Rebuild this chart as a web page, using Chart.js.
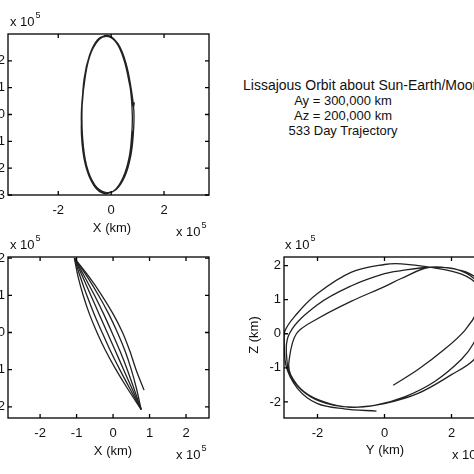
<!DOCTYPE html>
<html><head><meta charset="utf-8">
<script src="https://cdn.jsdelivr.net/npm/chart.js@4/dist/chart.umd.min.js"></script>
<style>
html,body{margin:0;padding:0;width:474px;height:474px;overflow:hidden;background:#fff;position:relative;font-family:"Liberation Sans",Arial,sans-serif}
canvas{position:absolute}
.t{position:absolute;font-size:13px;color:#111;white-space:nowrap;transform:translateX(-50%)}
</style></head><body>
<canvas id="c1" style="left:-60px;top:0px;width:280px;height:240px"></canvas>
<canvas id="c2" style="left:-60px;top:228px;width:280px;height:246px"></canvas>
<canvas id="c3" style="left:200px;top:228px;width:300px;height:246px"></canvas>
<div class="t" style="left:243px;top:77px;transform:none;font-size:14px">Lissajous Orbit about Sun-Earth/Moon L2</div>
<div class="t" style="left:343px;top:93px">Ay = 300,000 km</div>
<div class="t" style="left:343px;top:108px">Az = 200,000 km</div>
<div class="t" style="left:343px;top:123px">533 Day Trajectory</div>
<script>
// Data (units of 1e5 km)
const xyOrbitX = [0.82,0.72,0.5,0.15,-0.25,-0.65,-0.95,-1.1,-1.12,-1.0,-0.8,-0.5,-0.15,0.2,0.5,0.72,0.8,0.78,0.68,0.45,0.1,-0.3,-0.68,-0.98,-1.12,-1.1,-0.98,-0.78,-0.45,-0.1,0.25,0.55,0.76,0.86,0.84,0.74,0.52,0.18,-0.22,-0.62,-0.93,-1.08,-1.1,-1.02,-0.82,-0.52,-0.18,0.18,0.48,0.7,0.84,0.88];
const xyOrbitY = [-0.6,-1.5,-2.3,-2.8,-2.95,-2.65,-1.9,-0.9,0.2,1.3,2.2,2.75,2.95,2.7,2.0,1.0,0.0,-0.7,-1.6,-2.35,-2.85,-2.9,-2.6,-1.85,-0.8,0.3,1.4,2.25,2.8,2.9,2.65,1.95,0.95,0.1,-0.7,-1.55,-2.3,-2.8,-2.9,-2.62,-1.9,-0.85,0.25,1.35,2.2,2.78,2.92,2.7,2.05,1.1,0.3,0.45];
const xzZ = [2.0,1.5,1.0,0.5,0.0,-0.5,-1.0,-1.5,-2.07];
const xzLines = [
  [-1.06,-0.96,-0.82,-0.65,-0.44,-0.20,0.08,0.39,0.77],
  [-1.06,-0.90,-0.72,-0.52,-0.30,-0.07,0.185,0.455,0.77],
  [-1.06,-0.835,-0.61,-0.385,-0.16,0.065,0.29,0.515,0.77],
  [-1.06,-0.78,-0.51,-0.26,-0.03,0.19,0.39,0.57,0.77],
  [-1.06,-0.71,-0.40,-0.12,0.12,0.33,0.50,0.64,0.77]
];
const xzLastX = [-1.06,-0.66,-0.31,0.0,0.26,0.46,0.63,0.85];
const xzLastZ = [2.0,1.5,1.0,0.5,0.0,-0.5,-1.0,-1.55];
const yzY = [0.26,1.0,1.8,2.4,2.8,3.0,2.8,2.3,1.35,0.5,0,-1.0,-2.0,-2.63,-2.85,-2.8,-2.4,-1.8,-1.1,-0.3,0.6,1.5,2.3,2.66,3.0,2.95,2.7,2.1,1.35,0.5,0,-1,-2,-2.84,-2.9,-2.7,-2.2,-1.5,-0.8,0,1.0,2.0,2.66,3.0,3.0,2.8,2.3,1.35,0.5,0,-1,-2,-2.6,-3.0,-2.95,-2.6,-2.0,-1.2,-0.24];
const yzZ = [-1.51,-1.05,-0.45,0.1,0.7,1.3,1.6,1.85,1.95,1.62,1.38,0.95,0.44,0,-0.8,-1.2,-1.7,-2.0,-2.15,-2.1,-1.85,-1.4,-0.75,-0.28,0.5,1.2,1.6,1.9,1.95,1.85,1.76,1.4,0.85,0,-0.9,-1.4,-1.85,-2.1,-2.15,-2.05,-1.75,-1.2,-0.77,-0.2,0.8,1.4,1.75,1.95,2.05,2.03,1.8,1.18,0.6,0,-0.9,-1.6,-2.05,-2.2,-2.27];

const pts=(xs,ys)=>xs.map((x,i)=>({x,y:ys[i]}));
const FONT='"Liberation Sans",Arial,sans-serif';
function ds(data,t){return {data,showLine:true,borderColor:'#222',borderWidth:1.3,pointRadius:0,tension:t||0.4,fill:false};}

const boxPlugin={id:'box',afterDraw(ch,a,o){
  const c=ch.ctx,A=ch.chartArea;c.save();c.strokeStyle='#000';c.lineWidth=1.3;
  c.strokeRect(A.left,A.top,A.right-A.left,A.bottom-A.top);
  const xs=ch.scales.x,ys=ch.scales.y,L=4;c.beginPath();
  xs.ticks.forEach(t=>{const p=xs.getPixelForValue(t.value);c.moveTo(p,A.bottom);c.lineTo(p,A.bottom-L);c.moveTo(p,A.top);c.lineTo(p,A.top+L);});
  ys.ticks.forEach(t=>{const p=ys.getPixelForValue(t.value);c.moveTo(A.left,p);c.lineTo(A.left+L,p);c.moveTo(A.right,p);c.lineTo(A.right-L,p);});
  c.stroke();
  c.fillStyle='#111';c.textBaseline='middle';
  (o.texts||[]).forEach(t=>{
    c.save();c.translate(A.left+t.dx,A.top+t.dy);if(t.rot)c.rotate(t.rot);
    c.font='13px '+FONT;
    if(t.exp){c.textAlign='left';c.fillText('x 10',0,0);const w=c.measureText('x 10').width;c.font='9px '+FONT;c.fillText('5',w+1,-6);}
    else{c.textAlign='center';c.fillText(t.text,0,0);}
    c.restore();});
  c.restore();}};

function intTicks(step,keep){return s=>{const t=[];for(let v=Math.ceil(s.min/step)*step;v<=s.max+1e-9;v+=step){if(keep(v))t.push({value:v});}s.ticks=t;};}

function make(id,data,xr,yr,xstep,yw,xh,pad,texts,ykeep){
  return new Chart(document.getElementById(id),{type:'scatter',data:{datasets:data},plugins:[boxPlugin],
   options:{responsive:false,animation:false,devicePixelRatio:1,layout:{padding:pad},
    plugins:{legend:{display:false},tooltip:{enabled:false},box:{texts}},
    scales:{
     x:{type:'linear',min:xr[0],max:xr[1],grid:{display:false,drawTicks:false},border:{display:false},
        ticks:{padding:8,color:'#111',font:{size:13,family:FONT},callback:v=>String(v)},
        afterBuildTicks:intTicks(xstep,()=>true),afterFit:s=>{s.height=xh;}},
     y:{type:'linear',min:yr[0],max:yr[1],grid:{display:false,drawTicks:false},border:{display:false},
        ticks:{padding:3,color:'#111',font:{size:13,family:FONT},callback:v=>String(v)},
        afterBuildTicks:intTicks(1,ykeep),afterFit:s=>{s.width=yw;}}}}});
}
['c1','c2','c3'].forEach(id=>{const e=document.getElementById(id);e.width=parseInt(e.style.width);e.height=parseInt(e.style.height);});

make('c1',[ds(pts(xyOrbitX,xyOrbitY))],[-3.9,3.7],[-3,3],2,68,45,{top:34,right:11,left:0,bottom:0},
 [{exp:1,dx:2,dy:-12},{text:'X (km)',dx:104,dy:194},{exp:1,dx:168,dy:198}],v=>v<3);
make('c2',[...xzLines.map(l=>ds(pts(l,xzZ),0.3)),ds(pts(xzLastX,xzLastZ),0.3)],[-2.88,2.63],[-2.3,2.03],1,68,56,{top:29,right:11,left:0,bottom:0},
 [{exp:1,dx:2,dy:-12},{text:'X (km)',dx:105,dy:194},{exp:1,dx:168,dy:198}],v=>true);
make('c3',[ds(pts(yzY,yzZ),0.35)],[-3,3],[-2.47,2.25],2,84,56,{top:29,right:15,left:0,bottom:0},
 [{exp:1,dx:1,dy:-12},{text:'Y (km)',dx:101,dy:193},{text:'Z (km)',dx:-30,dy:78,rot:-Math.PI/2},{exp:1,dx:168,dy:198}],v=>Math.abs(v)<=2);
</script></body></html>
